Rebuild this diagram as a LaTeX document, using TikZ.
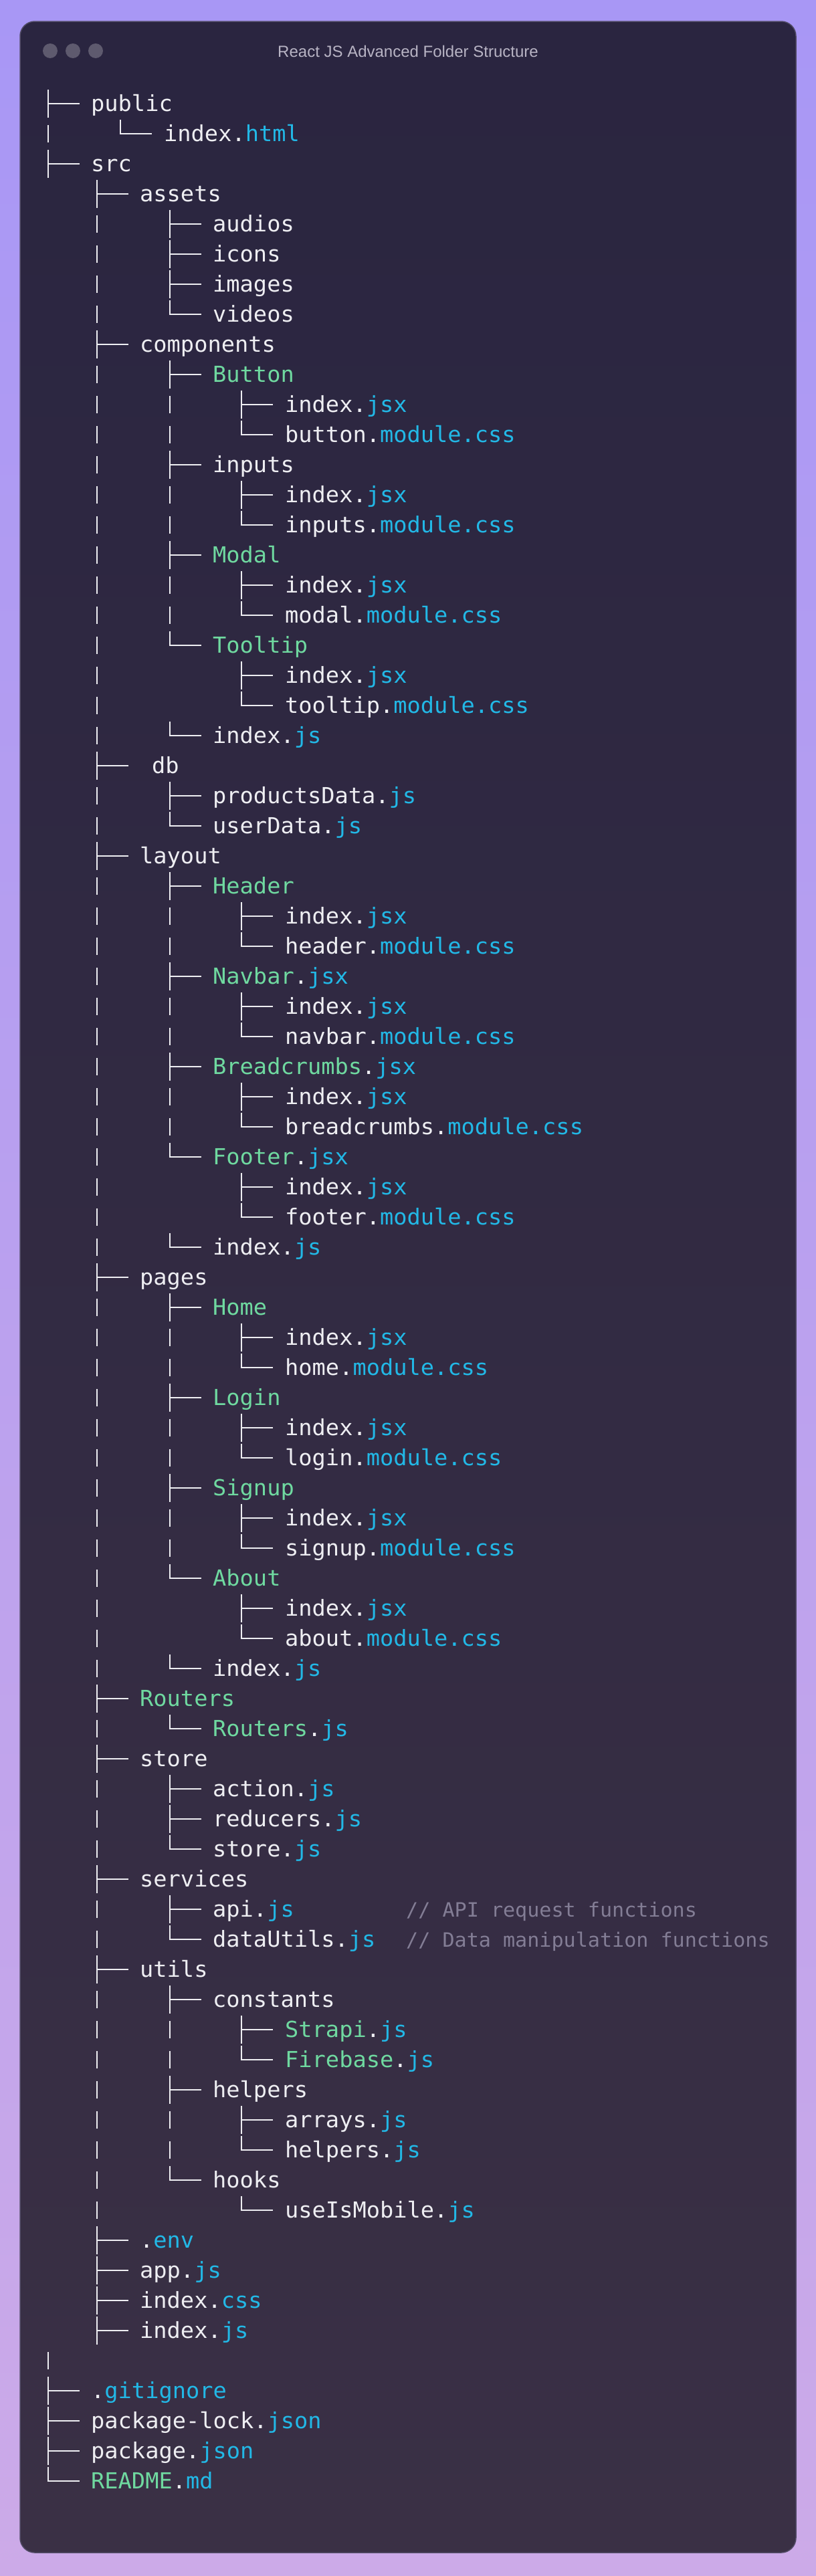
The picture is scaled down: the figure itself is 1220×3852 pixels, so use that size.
\documentclass[tikz,border=0pt]{standalone}
\usepackage{fontspec}
\newfontfamily\code[FakeStretch=1.02]{DejaVu Sans Mono}
\newfontfamily\titlefont{Liberation Sans}
\definecolor{fg}{HTML}{EEEEF2}
\definecolor{cy}{HTML}{22B8E6}
\definecolor{gr}{HTML}{6FD9A0}
\definecolor{cm}{HTML}{837D95}
\definecolor{dot}{HTML}{5E5A6E}
\newcommand\C[1]{\textcolor{cy}{#1}}
\newcommand\G[1]{\textcolor{gr}{#1}}
\newcommand\Yv[1]{155+45*(#1-1)}
\newcommand\Tee[2]{\draw[treeline] (#1,{\Yv{#2}-21}) -- (#1,{\Yv{#2}+21}) (#1,{\Yv{#2}}) -- ++(47,0);}
\newcommand\Ell[2]{\draw[treeline] (#1,{\Yv{#2}-21}) -- (#1,{\Yv{#2}}) -- ++(47,0);}
\newcommand\Pip[2]{\draw[treeline] (#1,{\Yv{#2}-13}) -- (#1,{\Yv{#2}+13});}
\newcommand\Row[3]{\node[txt] (r#1) at (#2,{\Yv{#1}+11}) {#3};}
\begin{document}
\begin{tikzpicture}[x=1pt,y=-1pt,
  treeline/.style={fg,line width=2.6pt},
  txt/.style={anchor=base west,inner sep=0pt,text=fg,font=\code\fontsize{33}{38}\selectfont},
  cmt/.style={anchor=base west,inner sep=0pt,text=cm,font=\code\fontsize{29.5}{36}\selectfont}]
\useasboundingbox (0,0) rectangle (1220,3852);
\shade[top color={rgb,255:red,168;green,151;blue,245},bottom color={rgb,255:red,204;green,170;blue,232}] (0,0) rectangle (1220,3852);
\shade[top color={rgb,255:red,42;green,37;blue,64},bottom color={rgb,255:red,58;green,48;blue,69},draw={rgb,255:red,80;green,74;blue,100},line width=1.5pt,rounded corners=22pt] (30,32) rectangle (1190,3817);
\fill[dot] (75,76) circle (11) (109,76) circle (11) (143,76) circle (11);
\node[text={rgb,255:red,184;green,180;blue,196},font=\titlefont\fontsize{24}{28}\selectfont] (title) at (610,77) {React JS Advanced Folder Structure};
% column positions
\def\La{72}\def\Lb{145}\def\Lc{254}\def\Ld{361}\def\Lx{180}
\def\Ta{136}\def\Tb{209}\def\Tc{318}\def\Td{426}\def\Tx{245}
% 1-3
\Tee\La{1}\Row{1}\Ta{public}
\Pip\La{2}\Ell\Lx{2}\Row{2}\Tx{index.\C{html}}
\Tee\La{3}\Row{3}\Ta{src}
% assets
\Tee\Lb{4}\Row{4}\Tb{assets}
\Pip\Lb{5}\Tee\Lc{5}\Row{5}\Tc{audios}
\Pip\Lb{6}\Tee\Lc{6}\Row{6}\Tc{icons}
\Pip\Lb{7}\Tee\Lc{7}\Row{7}\Tc{images}
\Pip\Lb{8}\Ell\Lc{8}\Row{8}\Tc{videos}
% components
\Tee\Lb{9}\Row{9}\Tb{components}
\Pip\Lb{10}\Tee\Lc{10}\Row{10}\Tc{\G{Button}}
\Pip\Lb{11}\Pip\Lc{11}\Tee\Ld{11}\Row{11}\Td{index.\C{jsx}}
\Pip\Lb{12}\Pip\Lc{12}\Ell\Ld{12}\Row{12}\Td{button.\C{module.css}}
\Pip\Lb{13}\Tee\Lc{13}\Row{13}\Tc{inputs}
\Pip\Lb{14}\Pip\Lc{14}\Tee\Ld{14}\Row{14}\Td{index.\C{jsx}}
\Pip\Lb{15}\Pip\Lc{15}\Ell\Ld{15}\Row{15}\Td{inputs.\C{module.css}}
\Pip\Lb{16}\Tee\Lc{16}\Row{16}\Tc{\G{Modal}}
\Pip\Lb{17}\Pip\Lc{17}\Tee\Ld{17}\Row{17}\Td{index.\C{jsx}}
\Pip\Lb{18}\Pip\Lc{18}\Ell\Ld{18}\Row{18}\Td{modal.\C{module.css}}
\Pip\Lb{19}\Ell\Lc{19}\Row{19}\Tc{\G{Tooltip}}
\Pip\Lb{20}\Tee\Ld{20}\Row{20}\Td{index.\C{jsx}}
\Pip\Lb{21}\Ell\Ld{21}\Row{21}\Td{tooltip.\C{module.css}}
\Pip\Lb{22}\Ell\Lc{22}\Row{22}\Tc{index.\C{js}}
% db
\Tee\Lb{23}\Row{23}{227}{db}
\Pip\Lb{24}\Tee\Lc{24}\Row{24}\Tc{productsData.\C{js}}
\Pip\Lb{25}\Ell\Lc{25}\Row{25}\Tc{userData.\C{js}}
% layout
\Tee\Lb{26}\Row{26}\Tb{layout}
\Pip\Lb{27}\Tee\Lc{27}\Row{27}\Tc{\G{Header}}
\Pip\Lb{28}\Pip\Lc{28}\Tee\Ld{28}\Row{28}\Td{index.\C{jsx}}
\Pip\Lb{29}\Pip\Lc{29}\Ell\Ld{29}\Row{29}\Td{header.\C{module.css}}
\Pip\Lb{30}\Tee\Lc{30}\Row{30}\Tc{\G{Navbar}.\C{jsx}}
\Pip\Lb{31}\Pip\Lc{31}\Tee\Ld{31}\Row{31}\Td{index.\C{jsx}}
\Pip\Lb{32}\Pip\Lc{32}\Ell\Ld{32}\Row{32}\Td{navbar.\C{module.css}}
\Pip\Lb{33}\Tee\Lc{33}\Row{33}\Tc{\G{Breadcrumbs}.\C{jsx}}
\Pip\Lb{34}\Pip\Lc{34}\Tee\Ld{34}\Row{34}\Td{index.\C{jsx}}
\Pip\Lb{35}\Pip\Lc{35}\Ell\Ld{35}\Row{35}\Td{breadcrumbs.\C{module.css}}
\Pip\Lb{36}\Ell\Lc{36}\Row{36}\Tc{\G{Footer}.\C{jsx}}
\Pip\Lb{37}\Tee\Ld{37}\Row{37}\Td{index.\C{jsx}}
\Pip\Lb{38}\Ell\Ld{38}\Row{38}\Td{footer.\C{module.css}}
\Pip\Lb{39}\Ell\Lc{39}\Row{39}\Tc{index.\C{js}}
% pages
\Tee\Lb{40}\Row{40}\Tb{pages}
\Pip\Lb{41}\Tee\Lc{41}\Row{41}\Tc{\G{Home}}
\Pip\Lb{42}\Pip\Lc{42}\Tee\Ld{42}\Row{42}\Td{index.\C{jsx}}
\Pip\Lb{43}\Pip\Lc{43}\Ell\Ld{43}\Row{43}\Td{home.\C{module.css}}
\Pip\Lb{44}\Tee\Lc{44}\Row{44}\Tc{\G{Login}}
\Pip\Lb{45}\Pip\Lc{45}\Tee\Ld{45}\Row{45}\Td{index.\C{jsx}}
\Pip\Lb{46}\Pip\Lc{46}\Ell\Ld{46}\Row{46}\Td{login.\C{module.css}}
\Pip\Lb{47}\Tee\Lc{47}\Row{47}\Tc{\G{Signup}}
\Pip\Lb{48}\Pip\Lc{48}\Tee\Ld{48}\Row{48}\Td{index.\C{jsx}}
\Pip\Lb{49}\Pip\Lc{49}\Ell\Ld{49}\Row{49}\Td{signup.\C{module.css}}
\Pip\Lb{50}\Ell\Lc{50}\Row{50}\Tc{\G{About}}
\Pip\Lb{51}\Tee\Ld{51}\Row{51}\Td{index.\C{jsx}}
\Pip\Lb{52}\Ell\Ld{52}\Row{52}\Td{about.\C{module.css}}
\Pip\Lb{53}\Ell\Lc{53}\Row{53}\Tc{index.\C{js}}
% Routers
\Tee\Lb{54}\Row{54}\Tb{\G{Routers}}
\Pip\Lb{55}\Ell\Lc{55}\Row{55}\Tc{\G{Routers}.\C{js}}
% store
\Tee\Lb{56}\Row{56}\Tb{store}
\Pip\Lb{57}\Tee\Lc{57}\Row{57}\Tc{action.\C{js}}
\Pip\Lb{58}\Tee\Lc{58}\Row{58}\Tc{reducers.\C{js}}
\Pip\Lb{59}\Ell\Lc{59}\Row{59}\Tc{store.\C{js}}
% services
\Tee\Lb{60}\Row{60}\Tb{services}
\Pip\Lb{61}\Tee\Lc{61}\Row{61}\Tc{api.\C{js}}
\Pip\Lb{62}\Ell\Lc{62}\Row{62}\Tc{dataUtils.\C{js}}
\node[cmt] (c61) at (607,{\Yv{61}+11}) {// API request functions};
\node[cmt] (c62) at (607,{\Yv{62}+11}) {// Data manipulation functions};
% utils
\Tee\Lb{63}\Row{63}\Tb{utils}
\Pip\Lb{64}\Tee\Lc{64}\Row{64}\Tc{constants}
\Pip\Lb{65}\Pip\Lc{65}\Tee\Ld{65}\Row{65}\Td{\G{Strapi}.\C{js}}
\Pip\Lb{66}\Pip\Lc{66}\Ell\Ld{66}\Row{66}\Td{\G{Firebase}.\C{js}}
\Pip\Lb{67}\Tee\Lc{67}\Row{67}\Tc{helpers}
\Pip\Lb{68}\Pip\Lc{68}\Tee\Ld{68}\Row{68}\Td{arrays.\C{js}}
\Pip\Lb{69}\Pip\Lc{69}\Ell\Ld{69}\Row{69}\Td{helpers.\C{js}}
\Pip\Lb{70}\Ell\Lc{70}\Row{70}\Tc{hooks}
\Pip\Lb{71}\Ell\Ld{71}\Row{71}\Td{useIsMobile.\C{js}}
% src files
\Tee\Lb{72}\Row{72}\Tb{.\C{env}}
\Tee\Lb{73}\Row{73}\Tb{app.\C{js}}
\Tee\Lb{74}\Row{74}\Tb{index.\C{css}}
\Tee\Lb{75}\Row{75}\Tb{index.\C{js}}
% root files
\Pip\La{76}
\Tee\La{77}\Row{77}\Ta{.\C{gitignore}}
\Tee\La{78}\Row{78}\Ta{package-lock.\C{json}}
\Tee\La{79}\Row{79}\Ta{package.\C{json}}
\Ell\La{80}\Row{80}\Ta{\G{README}.\C{md}}
\end{tikzpicture}
\end{document}
